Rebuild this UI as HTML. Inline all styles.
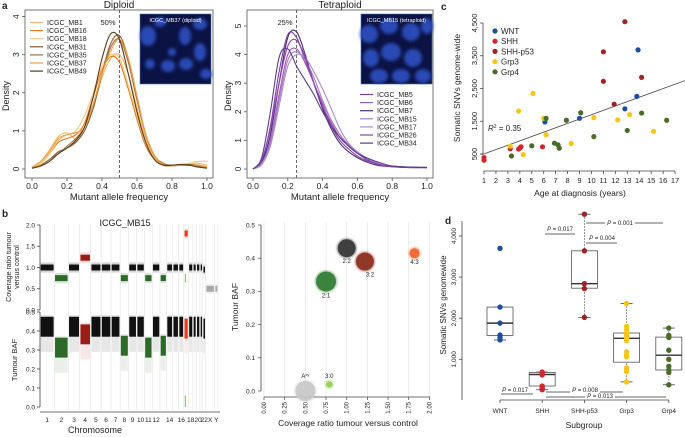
<!DOCTYPE html>
<html><head><meta charset="utf-8"><style>
body{margin:0;background:#fff}
svg{display:block;font-family:"Liberation Sans",sans-serif}
text{fill:#222}
</style></head><body>
<svg id="fig" width="685" height="437" viewBox="0 0 685 437" xmlns="http://www.w3.org/2000/svg">
<defs>
<filter id="blur1"><feGaussianBlur stdDeviation="1.6"/></filter>
<filter id="blur2"><feGaussianBlur stdDeviation="0.8"/></filter>
</defs>
<text x="2" y="9" font-size="10" font-weight="bold">a</text>
<text x="2" y="217" font-size="10" font-weight="bold">b</text>
<text x="441" y="10" font-size="10" font-weight="bold">c</text>
<text x="445" y="224" font-size="10" font-weight="bold">d</text>
<g id="pa"></g>
<g id="pb"></g>
<g id="pc"></g>
<g id="pd"></g>
</svg>
<script>
// ---------- Panel a data ----------
const mafGrid = [0,0.05,0.1,0.15,0.2,0.25,0.3,0.35,0.4,0.45,0.5,0.55,0.6,0.65,0.7,0.75,0.8,0.85,0.9,0.95,1.0];
const diploidNames = ["ICGC_MB1","ICGC_MB16","ICGC_MB18","ICGC_MB31","ICGC_MB35","ICGC_MB37","ICGC_MB49"];
const diploidColors = ["#f2b56b","#e07b20","#f6c77a","#8a5a2b","#a07040","#f0a040","#5a3a1a"];
const dipMB1  = [0.05,0.2,0.5,0.85,0.95,0.8,1.0,1.6,2.4,2.9,3.0,2.5,1.6,0.8,0.3,0.1,0.1,0.12,0.15,0.15,0.1];
const dipMB16 = [0.05,0.15,0.4,0.7,0.8,0.9,1.2,1.9,2.6,2.95,2.8,2.1,1.3,0.6,0.25,0.1,0.08,0.1,0.1,0.1,0.05];
const dipMB18 = [0.05,0.15,0.4,0.75,0.9,1.0,1.4,2.0,2.7,3.0,2.9,2.2,1.4,0.7,0.3,0.12,0.1,0.1,0.15,0.2,0.2];
const dipMB31 = [0.02,0.1,0.25,0.45,0.55,0.7,1.0,1.6,2.5,3.3,3.5,2.9,1.9,0.9,0.35,0.15,0.1,0.1,0.12,0.1,0.05];
const dipMB35 = [0.02,0.1,0.25,0.4,0.6,0.8,1.1,1.7,2.5,3.2,3.4,2.8,1.8,0.9,0.35,0.12,0.1,0.1,0.1,0.08,0.05];
const dipMB37 = [0.05,0.2,0.45,0.8,0.9,0.95,1.1,1.7,2.5,3.1,3.4,2.9,1.9,0.9,0.35,0.12,0.08,0.1,0.1,0.1,0.05];
const dipMB49 = [0.02,0.08,0.2,0.4,0.55,0.75,1.1,1.9,2.9,3.55,3.4,2.5,1.5,0.7,0.25,0.1,0.1,0.12,0.1,0.05,0.02];
const tetraNames = ["ICGC_MB5","ICGC_MB6","ICGC_MB7","ICGC_MB15","ICGC_MB17","ICGC_MB26","ICGC_MB34"];
const tetraColors = ["#7b3f9e","#9b59b6","#4b2c7a","#b07cc6","#a48fd0","#8e44ad","#5b3a8c"];
const tetMB5  = [0,0.3,1.5,3.4,4.7,4.6,3.8,3.0,2.2,1.5,1.0,0.7,0.45,0.3,0.2,0.12,0.1,0.08,0.06,0.06,0.05];
const tetMB6  = [0,0.2,1.0,2.6,4.0,4.2,3.7,3.0,2.3,1.7,1.2,0.8,0.55,0.35,0.22,0.14,0.1,0.08,0.06,0.05,0.05];
const tetMB7  = [0,0.25,1.2,3.0,4.6,4.8,4.0,3.0,2.1,1.4,0.9,0.6,0.4,0.25,0.15,0.1,0.08,0.06,0.05,0.05,0.05];
const tetMB15 = [0,0.2,0.9,2.4,3.8,4.1,3.8,3.2,2.4,1.7,1.2,0.85,0.6,0.4,0.25,0.15,0.1,0.08,0.06,0.05,0.05];
const tetMB17 = [0,0.15,0.8,2.2,3.6,4.0,3.9,3.4,2.8,2.1,1.4,0.9,0.6,0.4,0.25,0.15,0.1,0.08,0.06,0.06,0.05];
const tetMB26 = [0,0.3,1.4,3.0,4.3,4.5,3.9,3.0,2.2,1.6,1.1,0.8,0.55,0.35,0.2,0.12,0.08,0.06,0.05,0.05,0.05];
const tetMB34 = [0,0.4,2.0,3.9,4.2,3.6,3.1,2.6,2.0,1.5,1.1,0.8,0.55,0.4,0.28,0.18,0.1,0.08,0.07,0.06,0.06];
const mafTicks = [0,0.2,0.4,0.6,0.8,1.0];
const dipYTicks = [0,1,2,3,4];
const tetYTicks = [0,1,2,3,4,5];

// ---------- Panel b data ----------
const chromNames = ["1","2","3","4","5","6","7","8","9","10","11","12","13","14","15","16","17","18","19","20","21","22","X","Y"];
const chromLen = [249,243,198,191,181,171,159,146,141,136,135,134,115,107,102,90,81,78,59,63,48,51,155,59];
const chromCov = [1.0,0.75,1.0,1.23,1.0,1.0,1.0,0.75,1.0,1.0,0.75,1.0,0.75,1.0,1.0,1.0,1.8,1.0,1.0,1.0,1.0,0.95,0.5,0.5];
const chromBaf = [0.43,0.32,0.43,0.39,0.43,0.43,0.43,0.33,0.43,0.43,0.32,0.43,0.33,0.43,0.43,0.43,0.42,0.43,0.43,0.43,0.43,0.42,null,null];
const chromState = ["n","g","n","r","n","n","n","g","n","n","g","n","g","n","n","n","o","n","n","n","n","n","x","x"];
const chromLabels = ["1","2","3","4","5","6","7","8","9","10","11","12","","14","","16","","18","","20","","22","X","Y"];
const covTicks = [0,0.5,1.0,1.5,2.0];
const bafTicks = [0,0.1,0.2,0.3,0.4,0.5];
const bubCov = [0.5,0.79,0.75,1.0,1.22,1.82];
const bubBaf = [0.0,0.02,0.33,0.43,0.39,0.415];
const bubSize = [10,3.2,10,9,9,5];
const bubLabel = ["A","3:0","2:1","2:2","3:2","4:3"];
const bubColor = ["#c8c8c8","#8fcf4a","#2f7a32","#333333","#8a2a1a","#f0622a"];
const bubTicks = [0,0.25,0.5,0.75,1.0,1.25,1.5,1.75,2.0];

// ---------- Panel c data ----------
const groups = ["WNT","SHH","SHH-p53","Grp3","Grp4"];
const groupColors = ["#1f4e9c","#d0262c","#9c2328","#f5c518","#4b6b2a"];
const wntAge = [6.1,9.0,12.8,13.8,13.9];
const wntSnv = [1480,1590,1880,2260,3680];
const shhAge = [1.0,1.0,3.2,3.9,4.1,4.0,5.9];
const shhSnv = [390,310,660,650,720,680,720];
const p53Age = [11.0,11.0,11.9,14.2,12.8];
const p53Snv = [2720,3620,2020,2840,4540];
const grp3Age = [3.2,4.3,3.9,5.1,6.0,6.2,8.3,10.2,12.2,13.2,15.2];
const grp3Snv = [740,480,1810,2350,1590,1090,820,1610,1540,1700,1190];
const grp4Age = [3.3,5.0,6.2,6.9,7.2,7.3,7.9,9.1,10.2,13.0,14.2,16.3];
const grp4Snv = [440,750,1590,830,780,680,1530,1760,1030,1220,1750,1530];
const ageTicks = [1,2,3,4,5,6,7,8,9,10,11,12,13,14,15,16,17];
const snvTicks = [500,1500,2500,3500,4500];
const regIntercept = 370;
const regSlope = 133;

// ---------- Panel d data ----------
const boxQ1 = [1580,350,2730,930,740];
const boxMed = [1880,630,2840,1510,1100];
const boxQ3 = [2270,680,3640,1640,1540];
const boxLo = [1470,260,2020,450,380];
const boxHi = [2270,690,4530,2360,1760];
const dWnt = [3700,2270,1880,1590,1530,1470];
const dShh = [690,650,620,350,300,260];
const dP53 = [4530,3640,2840,2720,2020];
const dGrp3 = [2360,1800,1720,1640,1590,1560,1510,1450,1180,1100,1060,790,740,700,450];
const dGrp4 = [1760,1580,1530,1220,1000,830,740,680,380];
const dTicks = [1000,2000,3000,4000];

const NS = "http://www.w3.org/2000/svg";
function mk(tag, attrs, parent, txt){
  const e = document.createElementNS(NS, tag);
  for (const k in attrs) e.setAttribute(k, attrs[k]);
  if (txt !== undefined) e.textContent = txt;
  parent.appendChild(e);
  return e;
}
function smooth(p){
  let d = "M" + p[0][0].toFixed(1) + "," + p[0][1].toFixed(1);
  for (let i = 0; i < p.length - 1; i++){
    const p0 = p[i-1] || p[i], p1 = p[i], p2 = p[i+1], p3 = p[i+2] || p[i+1];
    const c1 = [p1[0] + (p2[0]-p0[0])/6, p1[1] + (p2[1]-p0[1])/6];
    const c2 = [p2[0] - (p3[0]-p1[0])/6, p2[1] - (p3[1]-p1[1])/6];
    d += "C" + c1.map(v=>v.toFixed(1)).join(",") + " " + c2.map(v=>v.toFixed(1)).join(",") + " " + p2.map(v=>v.toFixed(1)).join(",");
  }
  return d;
}
const fmt = v => v >= 1000 ? Math.floor(v/1000) + "," + String(v%1000).padStart(3,"0") : String(v);

// ================= Panel a =================
const pa = document.getElementById("pa");
function densityPanel(cfg){
  const sx = v => cfg.x0 + v*(cfg.x1 - cfg.x0);
  const sy = v => cfg.y0 - v*cfg.yk;
  let e = mk("rect", {x:cfg.bx0, y:10, width:cfg.bx1-cfg.bx0, height:168, fill:"none", stroke:"#555", "stroke-width":0.8}, pa);
  
  
  e = mk("text", {x:(cfg.bx0+cfg.bx1)/2, y:8, "font-size":10, "text-anchor":"middle"}, pa, cfg.title);
  
  
  mafTicks.forEach(t => {
    let l = mk("line", {x1:sx(t), x2:sx(t), y1:178, y2:181, stroke:"#555", "stroke-width":0.8}, pa);
    
    
    let tx = mk("text", {x:sx(t), y:189, "font-size":8.5, "text-anchor":"middle"}, pa, t.toFixed(1));
    
    
  });
  cfg.yticks.forEach(t => {
    let l = mk("line", {x1:cfg.bx0-3, x2:cfg.bx0, y1:sy(t), y2:sy(t), stroke:"#555", "stroke-width":0.8}, pa);
    
    
    let tx = mk("text", {x:0, y:0, "font-size":8.5, "text-anchor":"middle", transform:`translate(${cfg.bx0-6},${sy(t)}) rotate(-90)`}, pa, String(t));
    
    
  });
  e = mk("text", {x:0, y:0, "font-size":9, "text-anchor":"middle", transform:`translate(${cfg.bx0-16},96) rotate(-90)`}, pa, "Density");
  
  
  e = mk("text", {x:(cfg.bx0+cfg.bx1)/2, y:200, "font-size":9.5, "text-anchor":"middle"}, pa, "Mutant allele frequency");
  
  
  const ix = cfg.ix;
  e = mk("rect", {x:ix, y:14, width:71, height:70, fill:"#0b1244", stroke:"#4a6fb0", "stroke-width":0.6}, pa);
  
  
  const g = mk("g", {filter:"url(#blur1)"}, pa);
  cfg.blobs.forEach(b => {
    let c = mk("ellipse", {cx:ix+b[0], cy:14+b[1], rx:b[2], ry:b[3], fill:"#2f4fc0", opacity:0.9}, g);
    
    
  });
  e = mk("text", {x:ix+35.5, y:22, "font-size":5.5, "text-anchor":"middle", fill:"#fff", style:"fill:#fff"}, pa, cfg.insetText);
  
  
  e = mk("line", {x1:sx(cfg.ref), x2:sx(cfg.ref), y1:10, y2:178, stroke:"#444", "stroke-width":0.8, "stroke-dasharray":"3,2"}, pa);
  
  
  e = mk("text", {x:sx(cfg.ref)-4, y:25, "font-size":7.5, "text-anchor":"end"}, pa, cfg.refText);
  
  
  cfg.series.forEach((s, i) => {
    const pts = mafGrid.map((m, j) => [sx(m), sy(s[j])]);
    let p = mk("path", {d:smooth(pts), fill:"none", stroke:cfg.colors[i], "stroke-width":1.1}, pa);
    
    
    const ly = cfg.ly0 + i*8.1;
    let l = mk("line", {x1:cfg.lx, x2:cfg.lx+13, y1:ly-2.5, y2:ly-2.5, stroke:cfg.colors[i], "stroke-width":1.2}, pa);
    
    
    let t = mk("text", {x:cfg.lx+17, y:ly, "font-size":7}, pa, cfg.names[i]);
    
    
  });
}
densityPanel({tag:"diploid", title:"Diploid", bx0:25, bx1:213, x0:32, x1:207, y0:169, yk:38.1, yticks:dipYTicks,
  series:[dipMB1,dipMB16,dipMB18,dipMB31,dipMB35,dipMB37,dipMB49], names:diploidNames, colors:diploidColors,
  ref:0.5, refText:"50%", ix:140, insetText:"ICGC_MB37 (diploid)", lx:30, ly0:25,
  blobs:[[8,22,8,10],[20,8,6,5],[45,22,6,9],[60,10,7,6],[28,52,7,6],[46,50,7,6],[60,38,6,9],[32,38,4,4],[66,60,6,5],[10,50,5,5]]});
densityPanel({tag:"tetraploid", title:"Tetraploid", bx0:247, bx1:433, x0:253, x1:427, y0:169, yk:28.6, yticks:tetYTicks,
  series:[tetMB5,tetMB6,tetMB7,tetMB15,tetMB17,tetMB26,tetMB34], names:tetraNames, colors:tetraColors,
  ref:0.25, refText:"25%", ix:361, insetText:"ICGC_MB15 (tetraploid)", lx:360, ly0:97,
  blobs:[[8,20,9,9],[28,12,9,8],[50,18,9,9],[66,12,6,8],[10,44,8,9],[30,38,10,9],[52,44,9,9],[18,62,9,7],[40,62,9,7],[62,62,8,7]]});

// ================= Panel b (left: genome) =================
const pb = document.getElementById("pb");
const gx0 = 40, gW = 178;
const totLen = chromLen.reduce((a,b)=>a+b,0);
const cyCov = v => 310 - v*42.5;
const cyBaf = v => 407 - v*190;
let cum = 0;
const colMap = {n:"#111", g:"#2d6a2a", r:"#9a1c18", o:"#e83a22", x:"#a8a8a8"};
chromLen.forEach((len, i) => {
  const xa = gx0 + cum/totLen*gW, xb = gx0 + (cum+len)/totLen*gW;
  cum += len;
  const col = colMap[chromState[i]];
  let gl = mk("line", {x1:xb, x2:xb, y1:224, y2:410, stroke:"#e2e2e2", "stroke-width":0.6}, pb);
  
  
  const cv = chromCov[i];
  const w = Math.max(0.5, xb - xa - 1.4);
  let r1 = mk("rect", {x:xa+0.7, y:cyCov(cv+0.12), width:w, height:cyCov(cv-0.12)-cyCov(cv+0.12), fill:col, opacity:0.18}, pb);
  
  
  let r2 = mk("rect", {x:xa+0.7, y:cyCov(cv+0.07), width:w, height:cyCov(cv-0.07)-cyCov(cv+0.07), fill:col}, pb);
  
  
  const bf = chromBaf[i];
  if (bf !== null){
    let s1 = mk("rect", {x:xa+0.7, y:cyBaf(bf+0.055), width:w, height:cyBaf(bf-0.14)-cyBaf(bf+0.055), fill:col, opacity:0.1}, pb);
    
    
    let s2 = mk("rect", {x:xa+0.7, y:cyBaf(bf+0.045), width:w, height:cyBaf(bf-0.06)-cyBaf(bf+0.045), fill:col}, pb);
    
    
  }
  if (chromState[i] === "o"){
    let g1 = mk("rect", {x:xa+1, y:cyCov(0.85), width:1.2, height:cyCov(0.65)-cyCov(0.85), fill:"#8fcf4a"}, pb);
    
    
    let g2 = mk("rect", {x:xa+1, y:cyBaf(0.06), width:1.2, height:cyBaf(0)-cyBaf(0.06), fill:"#8fcf4a"}, pb);
    
    
  }
  if (chromLabels[i]){
    let t = mk("text", {x:(xa+xb)/2, y:422, "font-size":6.5, "text-anchor":"middle"}, pb, chromLabels[i]);
    
    
  }
});
let be = mk("line", {x1:40, x2:40, y1:225, y2:310, stroke:"#444", "stroke-width":0.8}, pb);


be = mk("line", {x1:40, x2:40, y1:312, y2:407, stroke:"#444", "stroke-width":0.8}, pb);


be = mk("line", {x1:40, x2:220, y1:412, y2:412, stroke:"#444", "stroke-width":0.8}, pb);


covTicks.forEach(t => {
  let l = mk("line", {x1:37, x2:40, y1:cyCov(t), y2:cyCov(t), stroke:"#444", "stroke-width":0.8}, pb);
  
  
  let tx = mk("text", {x:35, y:cyCov(t)+2.3, "font-size":6.5, "text-anchor":"end"}, pb, t.toFixed(1));
  
  
});
bafTicks.forEach(t => {
  let l = mk("line", {x1:37, x2:40, y1:cyBaf(t), y2:cyBaf(t), stroke:"#444", "stroke-width":0.8}, pb);
  
  
  let tx = mk("text", {x:35, y:cyBaf(t)+2.3, "font-size":6.5, "text-anchor":"end"}, pb, t.toFixed(1));
  
  
});
be = mk("text", {x:125, y:226, "font-size":9, "text-anchor":"middle"}, pb, "ICGC_MB15");


be = mk("text", {x:95, y:433, "font-size":9, "text-anchor":"middle"}, pb, "Chromosome");


const covTitle = ["Coverage ratio tumour","versus control"];
covTitle.forEach((s, i) => {
  let t = mk("text", {x:0, y:0, "font-size":7, "text-anchor":"middle", transform:`translate(${11+i*8},267) rotate(-90)`}, pb, s);
  
  
});
be = mk("text", {x:0, y:0, "font-size":7.5, "text-anchor":"middle", transform:"translate(17,360) rotate(-90)"}, pb, "Tumour BAF");



// ================= Panel b (right: bubbles) =================
const bx = v => 264 + v*82.7;
const by = v => 391 - v*332;
bubTicks.forEach(t => {
  let gl = mk("line", {x1:bx(t), x2:bx(t), y1:222, y2:397, stroke:"#e4e4e4", "stroke-width":0.7}, pb);
  
  
  let tk = mk("line", {x1:bx(t), x2:bx(t), y1:397, y2:400, stroke:"#444", "stroke-width":0.7}, pb);
  
  
  let tx = mk("text", {x:0, y:0, "font-size":6, "text-anchor":"end", transform:`translate(${bx(t)+2},402) rotate(-90)`}, pb, t.toFixed(2));
  
  
});
[0,0.1,0.2,0.3,0.4,0.5].forEach(t => {
  let tk = mk("line", {x1:258, x2:261, y1:by(t), y2:by(t), stroke:"#444", "stroke-width":0.7}, pb);
  
  
  let tx = mk("text", {x:255, y:by(t)+2.3, "font-size":6.5, "text-anchor":"end"}, pb, t.toFixed(1));
  
  
});
be = mk("line", {x1:261, x2:261, y1:225, y2:391, stroke:"#444", "stroke-width":0.8}, pb);


be = mk("line", {x1:264, x2:430, y1:397, y2:397, stroke:"#444", "stroke-width":0.8}, pb);


be = mk("text", {x:348, y:426, "font-size":8.5, "text-anchor":"middle"}, pb, "Coverage ratio tumour versus control");


be = mk("text", {x:0, y:0, "font-size":8.5, "text-anchor":"middle", transform:"translate(238,307) rotate(-90)"}, pb, "Tumour BAF");


bubCov.forEach((c, i) => {
  const cx = bx(c), cy = by(bubBaf[i]), r = bubSize[i];
  let h = mk("circle", {cx:cx, cy:cy, r:r+1.5, fill:bubColor[i], opacity:0.35, filter:"url(#blur2)"}, pb);
  
  
  let b = mk("circle", {cx:cx, cy:cy, r:r, fill:bubColor[i], opacity:0.9}, pb);
  
  
  const above = (bubLabel[i] === "A" || bubLabel[i] === "3:0");
  let t = mk("text", {x:cx + (bubLabel[i]==="3:2"?5:0), y: above ? cy - r - 3 : cy + r + 6, "font-size":6, "text-anchor":"middle"}, pb, bubLabel[i]);
  
  
  if (bubLabel[i] === "A"){
    let sp = mk("tspan", {"font-size":4, dy:-2}, t, "xy");
    
    
  }
});

// ================= Panel c =================
const pc = document.getElementById("pc");
const cxs = a => 484 + (a-1)*11.94;
const cys = v => 154 - (v-500)*0.03275;
let ce = mk("line", {x1:483, x2:483, y1:cys(4500), y2:cys(500), stroke:"#444", "stroke-width":0.8}, pc);


ce = mk("line", {x1:cxs(1), x2:cxs(17), y1:171, y2:171, stroke:"#444", "stroke-width":0.8}, pc);


snvTicks.forEach(t => {
  let l = mk("line", {x1:480, x2:483, y1:cys(t), y2:cys(t), stroke:"#444", "stroke-width":0.8}, pc);
  
  
  let tx = mk("text", {x:0, y:0, "font-size":7.5, "text-anchor":"middle", transform:`translate(${477},${cys(t)}) rotate(-90)`}, pc, fmt(t));
  
  
});
ageTicks.forEach(t => {
  let l = mk("line", {x1:cxs(t), x2:cxs(t), y1:171, y2:174, stroke:"#444", "stroke-width":0.8}, pc);
  
  
  let tx = mk("text", {x:cxs(t), y:183, "font-size":7.5, "text-anchor":"middle"}, pc, String(t));
  
  
});
ce = mk("text", {x:580, y:196, "font-size":8.5, "text-anchor":"middle"}, pc, "Age at diagnosis (years)");


ce = mk("text", {x:0, y:0, "font-size":8.5, "text-anchor":"middle", transform:"translate(460,88) rotate(-90)"}, pc, "Somatic SNVs genome-wide");


ce = mk("line", {x1:cxs(0.8), y1:cys(regIntercept+regSlope*0.8), x2:685, y2:cys(regIntercept+regSlope*(1+(685-484)/11.94)), stroke:"#444", "stroke-width":0.8}, pc);


ce = mk("text", {x:488, y:131, "font-size":8}, pc);


ce.innerHTML = '<tspan font-style="italic">R</tspan><tspan font-size="5" dy="-3">2</tspan><tspan dy="3"> = 0.35</tspan>';
const cAges = [wntAge, shhAge, p53Age, grp3Age, grp4Age];
const cSnvs = [wntSnv, shhSnv, p53Snv, grp3Snv, grp4Snv];
cAges.forEach((ages, gi) => {
  ages.forEach((a, j) => {
    let p = mk("circle", {cx:cxs(a), cy:cys(cSnvs[gi][j]), r:2.6, fill:groupColors[gi]}, pc);
    
    
  });
  let lc = mk("circle", {cx:495, cy:31+gi*10.2, r:2.6, fill:groupColors[gi]}, pc);
  
  
  let lt = mk("text", {x:501, y:34+gi*10.2, "font-size":8}, pc, groups[gi]);
  
  
});

// ================= Panel d =================
const pd = document.getElementById("pd");
const dxs = i => 500 + i*42.2;
const dys = v => 400.4 - v*0.0411;
const dPts = [dWnt, dShh, dP53, dGrp3, dGrp4];
let de = mk("line", {x1:462, x2:462, y1:221, y2:400, stroke:"#444", "stroke-width":0.8}, pd);


de = mk("line", {x1:dxs(0), x2:dxs(4), y1:400, y2:400, stroke:"#444", "stroke-width":0.8}, pd);


dTicks.forEach(t => {
  let l = mk("line", {x1:459, x2:462, y1:dys(t), y2:dys(t), stroke:"#444", "stroke-width":0.8}, pd);
  
  
  let tx = mk("text", {x:0, y:0, "font-size":6.5, "text-anchor":"middle", transform:`translate(${456},${dys(t)}) rotate(-90)`}, pd, fmt(t));
  
  
});
de = mk("text", {x:0, y:0, "font-size":8, "text-anchor":"middle", transform:"translate(446,305) rotate(-90)"}, pd, "Somatic SNVs genomewide");


de = mk("text", {x:584, y:428, "font-size":8.5, "text-anchor":"middle"}, pd, "Subgroup");


groups.forEach((gname, i) => {
  const cx = dxs(i), hw = 13;
  let tk = mk("line", {x1:cx, x2:cx, y1:400, y2:403, stroke:"#444", "stroke-width":0.8}, pd);
  
  
  let tl = mk("text", {x:cx, y:413, "font-size":6.5, "text-anchor":"middle"}, pd, gname);
  
  
  let wl = mk("line", {x1:cx, x2:cx, y1:dys(boxHi[i]), y2:dys(boxLo[i]), stroke:"#555", "stroke-width":0.8, "stroke-dasharray":"1.5,1.5"}, pd);
  
  
  [boxHi[i], boxLo[i]].forEach(v => {
    let c = mk("line", {x1:cx-6, x2:cx+6, y1:dys(v), y2:dys(v), stroke:"#444", "stroke-width":0.8}, pd);
    
    
  });
  let bxr = mk("rect", {x:cx-hw, y:dys(boxQ3[i]), width:hw*2, height:dys(boxQ1[i])-dys(boxQ3[i]), fill:"#fff", stroke:"#555", "stroke-width":0.8}, pd);
  
  
  let md = mk("line", {x1:cx-hw, x2:cx+hw, y1:dys(boxMed[i]), y2:dys(boxMed[i]), stroke:"#333", "stroke-width":1.4}, pd);
  
  
  dPts[i].forEach(v => {
    let p = mk("circle", {cx:cx, cy:dys(v), r:2.7, fill:groupColors[i]}, pd);
    
    
  });
});
const pAnn = [
  ["P = 0.017", 545, 575, 234, 560, 231],
  ["P = 0.001", 586, 663, 223, 620, 225],
  ["P = 0.004", 586, 617, 243, 602, 240],
  ["P = 0.017", 501, 533, 394, 515, 392],
  ["P = 0.008", 546, 623, 392, 585, 392],
  ["P = 0.013", 546, 666, 397, 600, 398]
];
pAnn.forEach(a => {
  let l = mk("line", {x1:a[1], x2:a[2], y1:a[3], y2:a[3], stroke:"#333", "stroke-width":0.8}, pd);
  
  
  let w = a[0].length*3.3;
  let bg = mk("rect", {x:a[4]-w/2, y:a[5]-5.5, width:w, height:6.5, fill:"#fff"}, pd);
  
  
  let t = mk("text", {x:a[4], y:a[5], "font-size":6, "text-anchor":"middle"}, pd);
  
  
  t.innerHTML = '<tspan font-style="italic">P</tspan>' + a[0].slice(1);
});
</script>
</body></html>
